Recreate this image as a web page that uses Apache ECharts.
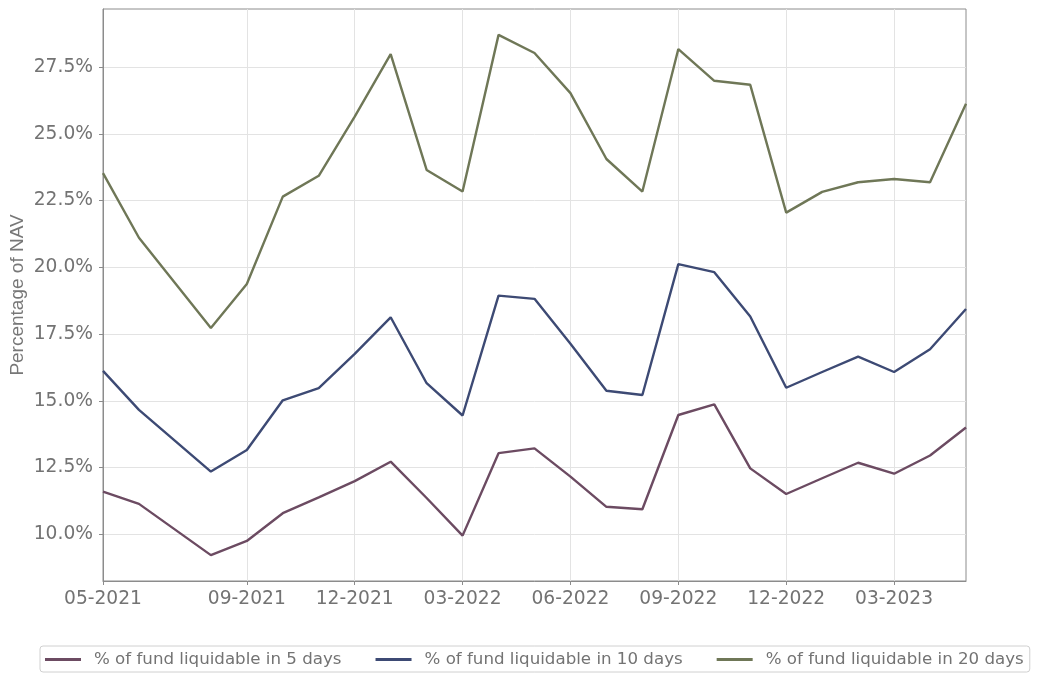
<!DOCTYPE html>
<html>
<head>
<meta charset="utf-8">
<script src="https://cdn.jsdelivr.net/npm/echarts@6/dist/echarts.min.js"></script>
<style>
html,body{margin:0;padding:0;background:#fff;}
#chart{width:1039px;height:685px;}
</style>
</head>
<body>
<div id="chart"></div>
<script>
const categories = ['05-2021','06-2021','07-2021','08-2021','09-2021','10-2021','11-2021','12-2021',
  '01-2022','02-2022','03-2022','04-2022','05-2022','06-2022','07-2022','08-2022','09-2022','10-2022',
  '11-2022','12-2022','01-2023','02-2023','03-2023','04-2023','05-2023'];
const tickLabelIdx = [0,4,7,10,13,16,19,22];
const yTicks = [10, 12.5, 15, 17.5, 20, 22.5, 25, 27.5];
const days5  = [11.60,11.14,null,9.22,9.75,10.79,11.38,11.99,12.72,11.36,9.95,13.04,13.22,12.16,11.03,10.94,14.47,14.87,12.47,11.51,12.10,12.68,12.27,12.95,14.00];
const days10 = [16.12,14.66,null,12.35,13.16,15.02,15.48,16.76,18.13,15.66,14.45,18.94,18.82,17.14,15.38,15.22,20.12,19.82,18.16,15.49,16.08,16.66,16.08,16.93,18.44];
const days20 = [23.53,21.11,null,17.73,19.38,22.65,23.43,25.65,27.99,23.65,22.84,28.71,28.03,26.53,24.06,22.84,28.18,26.99,26.84,22.05,22.83,23.19,23.31,23.19,26.13];
const seriesNames = ['% of fund liquidable in 5 days','% of fund liquidable in 10 days','% of fund liquidable in 20 days'];
const colors = ['#6c4b62','#3d4a74','#6f7757'];

const chart = echarts.init(document.getElementById('chart'));
const showIdx = (i) => tickLabelIdx.indexOf(i) >= 0;
const txt = '#737373';
chart.setOption({
  animation: false,
  grid: {left: 103, right: 73, top: 9, bottom: 104, show: true, borderColor: '#8c8c8c', borderWidth: 1,
    containLabel: false, outerBoundsMode: 'none'},
  xAxis: {
    type: 'category', data: categories, boundaryGap: false,
    axisLine: {lineStyle: {color: '#8c8c8c'}},
    axisTick: {show: true, length: 4, interval: showIdx, lineStyle: {color: '#8c8c8c'}},
    axisLabel: {interval: showIdx, color: txt, fontSize: 18.67, fontFamily: 'DejaVu Sans', margin: 9},
    splitLine: {show: true, interval: showIdx, lineStyle: {color: '#e3e3e3', width: 1}}
  },
  yAxis: {
    type: 'value', min: 8.25, max: 29.68,
    name: 'Percentage of NAV', nameLocation: 'middle', nameGap: 76, nameMoveOverlap: false,
    nameTextStyle: {color: '#777', fontSize: 19, fontFamily: 'Liberation Sans'},
    axisLine: {show: true, lineStyle: {color: '#8c8c8c'}},
    axisTick: {show: true, length: 4, customValues: yTicks, lineStyle: {color: '#8c8c8c'}},
    axisLabel: {customValues: yTicks, color: txt, fontSize: 18.67, fontFamily: 'DejaVu Sans', margin: 10,
      formatter: v => v.toFixed(1) + '%'},
    splitLine: {show: true, lineStyle: {color: '#e3e3e3', width: 1}}
  },
  legend: {
    left: 40, top: 646, orient: 'horizontal',
    icon: 'rect', itemWidth: 36, itemHeight: 3, itemGap: 34,
    padding: [5, 6, 4, 5],
    borderColor: '#d0d0d0', borderWidth: 1, borderRadius: 3,
    textStyle: {color: txt, fontSize: 16.67, fontFamily: 'DejaVu Sans', padding: [0, 0, 0, 8]},
    data: seriesNames
  },
  series: [days5, days10, days20].map((d, k) => ({
    name: seriesNames[k], type: 'line', data: d, connectNulls: true,
    symbol: 'none', color: colors[k],
    lineStyle: {color: colors[k], width: 2.4}
  }))
});
</script>
</body>
</html>
